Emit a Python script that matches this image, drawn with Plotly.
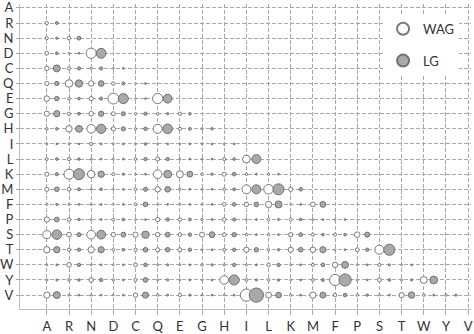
import plotly.graph_objects as go

amino = ["A", "R", "N", "D", "C", "Q", "E", "G", "H", "I",
         "L", "K", "M", "F", "P", "S", "T", "W", "Y", "V"]

# Lower-triangular exchangeabilities, row i (amino[i]) vs columns amino[0..i-1]
wag_rows = [
    [0.551571],
    [0.509848, 0.635346],
    [0.738998, 0.147304, 5.429420],
    [1.027040, 0.528191, 0.265256, 0.0302949],
    [0.908598, 3.035500, 1.543640, 0.616783, 0.0988179],
    [1.582850, 0.439157, 0.947198, 6.174160, 0.021352, 5.469470],
    [1.416720, 0.584665, 1.125560, 0.865584, 0.306674, 0.330052, 0.567717],
    [0.316954, 2.137150, 3.956290, 0.930676, 0.248972, 4.294110, 0.570025, 0.249410],
    [0.193335, 0.186979, 0.554236, 0.039437, 0.170135, 0.113917, 0.127395, 0.0304501, 0.138190],
    [0.397915, 0.497671, 0.131528, 0.0848047, 0.384287, 0.869489, 0.154263, 0.0613037, 0.499462, 3.170970],
    [0.906265, 5.351420, 3.012010, 0.479855, 0.0740339, 3.894900, 2.584430, 0.373558, 0.890432, 0.323832, 0.257555],
    [0.893496, 0.683162, 0.198221, 0.103754, 0.390482, 1.545260, 0.315124, 0.174100, 0.404141, 4.257460, 4.854020, 0.934276],
    [0.210494, 0.102711, 0.0961621, 0.0467304, 0.398020, 0.0999208, 0.0811339, 0.049931, 0.679371, 1.059470, 2.115170, 0.088836, 1.190630],
    [1.438550, 0.679489, 0.195081, 0.423984, 0.109404, 0.933372, 0.682355, 0.243570, 0.696198, 0.0999288, 0.415844, 0.556896, 0.171329, 0.161444],
    [3.370790, 1.224190, 3.974230, 1.071760, 1.407660, 1.028870, 0.704939, 1.341820, 0.740169, 0.319440, 0.344739, 0.967130, 0.493905, 0.545931, 1.613280],
    [2.121110, 0.554413, 2.030060, 0.374866, 0.512984, 0.857928, 0.822765, 0.225833, 0.473307, 1.458160, 0.326622, 1.386980, 1.516120, 0.171903, 0.795384, 4.378020],
    [0.113133, 1.163920, 0.0719167, 0.129767, 0.717070, 0.215737, 0.156557, 0.336983, 0.262569, 0.212483, 0.665309, 0.137505, 0.515706, 1.529640, 0.139405, 0.523742, 0.110864],
    [0.240735, 0.381533, 1.086000, 0.325711, 0.543833, 0.227710, 0.196303, 0.103604, 3.873440, 0.420170, 0.398618, 0.133264, 0.428437, 6.454280, 0.216046, 0.786993, 0.291148, 2.485390],
    [2.006010, 0.251849, 0.196246, 0.152335, 1.002140, 0.301281, 0.588731, 0.187247, 0.118358, 7.821300, 1.800340, 0.305434, 2.058450, 0.649892, 0.314887, 0.232739, 1.388230, 0.365369, 0.314730],
]

lg_rows = [
    [0.425093],
    [0.276818, 0.751878],
    [0.395144, 0.123954, 5.076149],
    [2.489084, 0.534551, 0.528768, 0.062556],
    [0.969894, 2.807908, 1.695752, 0.523386, 0.084808],
    [1.038545, 0.363970, 0.541712, 5.243870, 0.003499, 4.128591],
    [2.066040, 0.390192, 1.437645, 0.844926, 0.569265, 0.267959, 0.348847],
    [0.358858, 2.426601, 4.509238, 0.927114, 0.640543, 4.813505, 0.423881, 0.311484],
    [0.149830, 0.126991, 0.191503, 0.010690, 0.320627, 0.072854, 0.044265, 0.008705, 0.108882],
    [0.395337, 0.301848, 0.068427, 0.015076, 0.594007, 0.582457, 0.069673, 0.044261, 0.366317, 4.145067],
    [0.536518, 6.326067, 2.145078, 0.282959, 0.013266, 3.234294, 1.807177, 0.296636, 0.697264, 0.159069, 0.137500],
    [1.124035, 0.484133, 0.371004, 0.025548, 0.893680, 1.672569, 0.173735, 0.139538, 0.442472, 4.273607, 6.312358, 0.656604],
    [0.253701, 0.052722, 0.089525, 0.017416, 1.105251, 0.035855, 0.018811, 0.089586, 0.682139, 1.112727, 2.592692, 0.023918, 1.798853],
    [1.177651, 0.332533, 0.161787, 0.394456, 0.075382, 0.624294, 0.419409, 0.196961, 0.508851, 0.078281, 0.249060, 0.390322, 0.099849, 0.094464],
    [4.727182, 0.858151, 4.008358, 1.240275, 2.784478, 1.223828, 0.611973, 1.739990, 0.990012, 0.064105, 0.182287, 0.748683, 0.346960, 0.361819, 1.338132],
    [2.139501, 0.578987, 2.000679, 0.425860, 1.143480, 1.080136, 0.604545, 0.129836, 0.584262, 1.033739, 0.302936, 1.136863, 2.020366, 0.165001, 0.571468, 6.472279],
    [0.180717, 0.593607, 0.045376, 0.029890, 0.670128, 0.236199, 0.077852, 0.268491, 0.597054, 0.111660, 0.619632, 0.049906, 0.696175, 2.457121, 0.095131, 0.248862, 0.140825],
    [0.218959, 0.314440, 0.612025, 0.135107, 1.165532, 0.257336, 0.120037, 0.054679, 5.306834, 0.232523, 0.299648, 0.131932, 0.481306, 7.803902, 0.089613, 0.400547, 0.245841, 3.151815],
    [2.547870, 0.170887, 0.083688, 0.037967, 1.959291, 0.210332, 0.245034, 0.076701, 0.119013, 10.649107, 1.702745, 0.185202, 1.898718, 0.654683, 0.296501, 0.098369, 2.188158, 0.189510, 0.249313],
]

LG_OFFSET = 0.45


def flatten(rows, offset):
    xs, ys, ss = [], [], []
    for i, row in enumerate(rows, start=1):
        for j, v in enumerate(row):
            xs.append(j + offset)
            ys.append(i)
            ss.append(v)
    return xs, ys, ss


wx, wy, ws = flatten(wag_rows, 0.0)
lx, ly, ls = flatten(lg_rows, LG_OFFSET)

SIZEREF = 0.105
font_family = "Lato, 'Open Sans', sans-serif"

fig = go.Figure()
fig.add_trace(go.Scatter(
    x=wx, y=wy, mode="markers", name="WAG", legendgroup="wag",
    marker=dict(size=ws, sizemode="area", sizeref=SIZEREF, sizemin=0.9,
                color="white", line=dict(color="#7a7a7a", width=1), opacity=1),
))
fig.add_trace(go.Scatter(
    x=lx, y=ly, mode="markers", name="LG", legendgroup="lg",
    marker=dict(size=ls, sizemode="area", sizeref=SIZEREF, sizemin=0.9,
                color="#a9a9a9", line=dict(color="#707070", width=1), opacity=1),
))

grid_color = "#a8a8a8"
axis_color = "#bdbdbd"

fig.update_layout(
    width=474, height=334,
    margin=dict(l=17, r=3, t=0, b=22),
    paper_bgcolor="white", plot_bgcolor="white",
    font=dict(family=font_family, size=13, color="#333333"),
    showlegend=True,
    legend=dict(
        x=0.805, y=0.968, xanchor="left", yanchor="top",
        bgcolor="white", borderwidth=0,
        font=dict(size=13, color="#333333"),
        itemsizing="constant", traceorder="grouped", tracegroupgap=12,
    ),
    xaxis=dict(
        range=[-1.21, 19.13],
        tickmode="array", tickvals=list(range(len(amino))), ticktext=amino,
        showgrid=True, gridcolor=grid_color, gridwidth=1, griddash="4px,2px",
        showline=True, linecolor=axis_color, linewidth=1,
        ticks="outside", ticklen=5, tickcolor=grid_color,
        zeroline=False, tickfont=dict(size=13, color="#333333"),
        ticklabeloverflow="allow",
    ),
    yaxis=dict(
        range=[19.92, -0.26],
        tickmode="array", tickvals=list(range(len(amino))), ticktext=amino,
        showgrid=True, gridcolor=grid_color, gridwidth=1, griddash="4px,2px",
        showline=True, linecolor=axis_color, linewidth=1,
        ticks="outside", ticklen=3, tickcolor=grid_color,
        zeroline=False, tickfont=dict(size=13, color="#333333"),
        ticklabeloverflow="allow",
    ),
)

fig.write_html("out.html")
